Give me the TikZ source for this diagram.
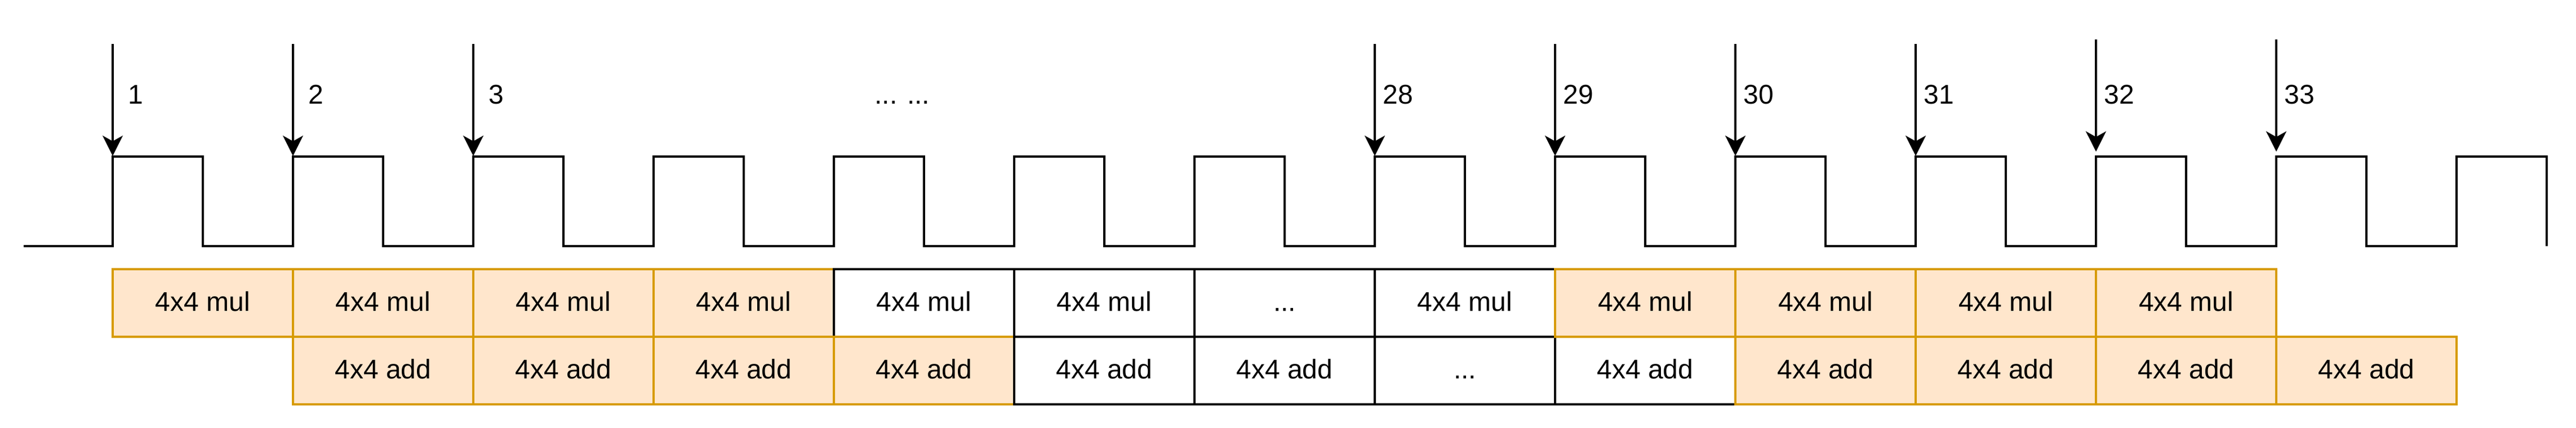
\documentclass[tikz,border=0pt]{standalone}
\usepackage{fontspec}
\setmainfont{Liberation Sans}
\usetikzlibrary{arrows.meta}
\definecolor{ofill}{HTML}{FFE6CC}
\definecolor{odraw}{HTML}{D79B00}
\begin{document}
\begin{tikzpicture}[x=1pt,y=-1pt,
  cell/.style={rectangle, minimum width=80pt, minimum height=30pt, inner sep=0pt,
    line width=0.9pt, font=\fontsize{12}{14}\selectfont, text height=8.6pt, text depth=1.6pt},
  hot/.style={cell, draw=odraw, fill=ofill},
  cold/.style={cell, draw=black, fill=white},
  clk/.style={line width=0.95pt, line join=miter},
  tickarrow/.style={line width=0.8pt, -{Stealth[length=9pt,width=9pt,inset=2.5pt]}},
  num/.style={font=\fontsize{12}{14}\selectfont, anchor=base, inner sep=0pt}]
\useasboundingbox (0,0) rectangle (1143,190);

% clock signal
\draw[clk] (10.5,109.25)
  \foreach \i in {0,...,13} { -- ({50+80*\i},109.25) -- ({50+80*\i},69.5)
    -- ({90+80*\i},69.5) -- ({90+80*\i},109.25) };

% arrows with labels
\foreach \n/\x/\yt/\yb in {1/50/19.5/69.2, 2/130/19.5/69.2, 3/210/19.5/69.2,
    28/610/19.5/69.2, 29/690/19.5/69.2, 30/770/19.5/69.2, 31/850/19.5/69.2,
    32/930/17.5/67.3, 33/1010/17.5/67.3} {
  \coordinate (s\n) at (\x,\yt);
  \coordinate (t\n) at (\x,\yb);
  \draw[tickarrow] (s\n) -- (t\n);
  \node[num] (l\n) at (\x+10.3,46) {\n};
}
\node[num] (dots) at (400.3,46) {... ...};

% multiply row, cells 1-8
\foreach \k in {1,...,4}
  \node[hot] (m\k) at ({90+80*(\k-1)},134.5) {4x4 mul};
\node[cold] (m5) at (410,134.5) {4x4 mul};
\node[cold] (m6) at (490,134.5) {4x4 mul};
\node[cold] (m7) at (570,134.5) {...};
\node[cold] (m8) at (650,134.5) {4x4 mul};

% add row, cells 1-8
\foreach \k in {1,...,4}
  \node[hot] (a\k) at ({170+80*(\k-1)},164.5) {4x4 add};
\node[cold] (a5) at (490,164.5) {4x4 add};
\node[cold] (a6) at (570,164.5) {4x4 add};
\node[cold] (a7) at (650,164.5) {...};
\node[cold] (a8) at (730,164.5) {4x4 add};

% remaining cells
\foreach \k in {9,...,12}
  \node[hot] (m\k) at ({90+80*(\k-1)},134.5) {4x4 mul};
\foreach \k in {9,...,12}
  \node[hot] (a\k) at ({170+80*(\k-1)},164.5) {4x4 add};
\end{tikzpicture}
\end{document}
